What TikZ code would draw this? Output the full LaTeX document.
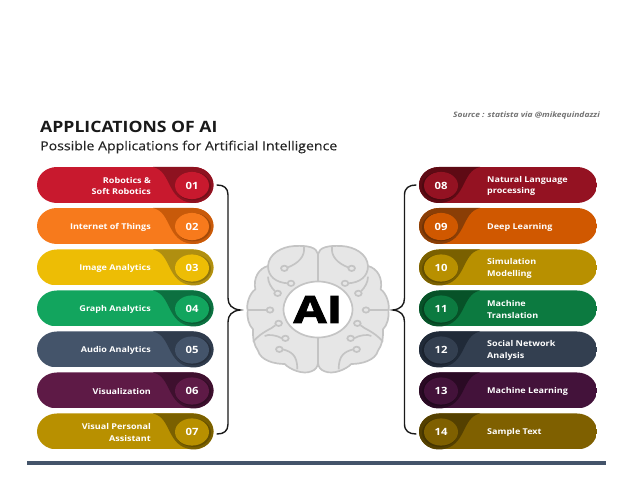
\documentclass[tikz,border=0pt]{standalone}
\usepackage{fontspec}
\setmainfont{Open Sans}
\newfontfamily\widea[FakeStretch=1.13]{Open Sans}
\newfontfamily\wideb[FakeStretch=1.13,FakeBold=0.25]{Open Sans}
\newfontfamily\widec[FakeStretch=1.28,BoldFeatures={FakeBold=2.5}]{Open Sans}
\definecolor{c1}{HTML}{C8192E}\definecolor{d1}{HTML}{8E1220}
\definecolor{c2}{HTML}{F77A1C}\definecolor{d2}{HTML}{C85A0A}
\definecolor{c3}{HTML}{EDBD05}\definecolor{d3}{HTML}{B08F10}
\definecolor{c4}{HTML}{12A55E}\definecolor{d4}{HTML}{0C7040}
\definecolor{c5}{HTML}{44546A}\definecolor{d5}{HTML}{2F3B4C}
\definecolor{c6}{HTML}{5E1A46}\definecolor{d6}{HTML}{3E102E}
\definecolor{c7}{HTML}{B89000}\definecolor{d7}{HTML}{7A6000}
\definecolor{c8}{HTML}{941222}\definecolor{d8}{HTML}{5E0A14}
\definecolor{c9}{HTML}{D05800}\definecolor{d9}{HTML}{8A3E06}
\definecolor{c10}{HTML}{B89000}\definecolor{d10}{HTML}{7A6000}
\definecolor{c11}{HTML}{0C7A40}\definecolor{d11}{HTML}{075228}
\definecolor{c12}{HTML}{333F50}\definecolor{d12}{HTML}{202A38}
\definecolor{c13}{HTML}{43123A}\definecolor{d13}{HTML}{2A0A24}
\definecolor{c14}{HTML}{7F6000}\definecolor{d14}{HTML}{544000}
\definecolor{brainfill}{HTML}{E6E6E6}\definecolor{brainline}{HTML}{C4C4C4}
\tikzset{
  pilltext/.style={text=white,font=\widea\bfseries\fontsize{8}{11.2}\selectfont,inner sep=0pt},
  numtext/.style={text=white,font=\widea\bfseries\fontsize{10}{12}\selectfont,inner sep=0pt},
  bracket/.style={draw=black!90,line width=1.4pt,line cap=round},
  brainl/.style={draw=brainline,line width=1.7pt},
  pad/.style={draw=brainline,line width=1.7pt,fill=brainfill},
}
\newcommand{\pillshape}[3]{% left, right, centre y
  (#2-20,#3-18) .. controls (#2-9,#3-18) and (#2,#3-10) .. (#2,#3) .. controls (#2,#3+10) and (#2-9,#3+18) .. (#2-20,#3+18) -- (#1+20,#3+18) .. controls (#1+9,#3+18) and (#1,#3+10) .. (#1,#3) .. controls (#1,#3-10) and (#1+9,#3-18) .. (#1+20,#3-18) -- cycle}
\newcommand{\pillL}[4]{%
  \begin{scope}
    \clip \pillshape{37}{213.5}{#1};
    \fill[c#3] (37,#1-18) rectangle (214,#1+18);
    \fill[d#3] (153,#1-18) .. controls (172,#1-14) and (166,#1+15) .. (192,#1+18) -- (214,#1+18) -- (214,#1-18) -- cycle;
    \fill[d#3!82!black] (193.2,#1+1.2) ellipse (17.8 and 14.2);
  \end{scope}
  \fill[c#3] (192,#1+0.5) ellipse (17 and 13.6);
  \node[numtext] (n#3) at (192,#1+0.5) {#2};
  \node[pilltext,anchor=east,align=right] (t#3) at (151,#1+1) {#4};
}
\newcommand{\pillR}[4]{%
  \begin{scope}
    \clip \pillshape{419}{597}{#1};
    \fill[c#3] (419,#1-18) rectangle (597,#1+18);
    \fill[d#3] (480,#1-18) .. controls (461,#1-14) and (467,#1+15) .. (441,#1+18) -- (419,#1+18) -- (419,#1-18) -- cycle;
    \fill[d#3!82!black] (439.8,#1+1.2) ellipse (17.8 and 14.2);
  \end{scope}
  \fill[c#3] (441,#1+0.5) ellipse (17 and 13.6);
  \node[numtext] (n#3) at (441,#1+0.5) {#2};
  \node[pilltext,anchor=west,align=left] (t#3) at (487,#1+1) {#4};
}
\newcommand{\brainhalf}{%
  \path[pad] (0,72) .. controls (4,52) and (30,46) .. (70,48)
    .. controls (110,50) and (148,72) .. (150,108)
    .. controls (178,115) and (195,145) .. (188,178)
    .. controls (206,190) and (216,225) .. (211,241)
    .. controls (214,262) and (208,285) .. (195,298)
    .. controls (196,325) and (192,345) .. (180,362)
    .. controls (172,392) and (130,402) .. (100,402)
    .. controls (85,418) and (45,435) .. (20,424)
    .. controls (8,420) and (2,412) .. (0,400) -- cycle;
  \draw[brainl] (42,50) .. controls (38,80) and (60,100) .. (90,112);
  \draw[pad] (101,115) ellipse (10 and 8);
  \draw[brainl] (150,108) .. controls (150,140) and (125,158) .. (91,160);
  \draw[pad] (81,160) ellipse (10 and 8);
  \draw[brainl] (150,140) .. controls (150,158) and (140,172) .. (130,183);
  \draw[pad] (121,190) ellipse (10 and 8);
  \draw[brainl] (154,240) -- (211,240);
  \draw[pad] (144,240) ellipse (10 and 8);
  \draw[brainl] (128,286) .. controls (140,298) and (165,302) .. (195,335);
  \draw[pad] (118,280) ellipse (10 and 8);
  \draw[brainl] (108,325) .. controls (125,315) and (150,312) .. (160,318);
  \draw[pad] (98,325) ellipse (10 and 8);
  \draw[brainl] (106,358) .. controls (80,365) and (62,375) .. (62,418);
  \draw[pad] (116,358) ellipse (10 and 8);
  \draw[brainl] (0,72) -- (0,158);
  \draw[brainl] (0,322) -- (0,400);
}
\begin{document}
\begin{tikzpicture}[x=1pt,y=-1pt]
\useasboundingbox (0,0) rectangle (638,478);
\fill[white] (0,0) rectangle (638,478);
\node[anchor=west,inner sep=0pt,font=\widea\bfseries\fontsize{15.6}{17}\selectfont,text=black!90] (title) at (40,127) {APPLICATIONS OF AI};
\node[anchor=west,inner sep=0pt,font=\wideb\fontsize{12.5}{14}\selectfont,text=black!85] (subtitle) at (40,147) {Possible Applications for Artificial Intelligence};
\node[anchor=east,inner sep=0pt,font=\widea\bfseries\itshape\fontsize{7.5}{8}\selectfont,text=black!55] (source) at (600,115.5) {Source : statista via @mikequindazzi};
\pillL{185}{01}{1}{Robotics \&\\Soft Robotics}
\pillL{226}{02}{2}{Internet of Things}
\pillL{267.5}{03}{3}{Image Analytics}
\pillL{308.5}{04}{4}{Graph Analytics}
\pillL{349.5}{05}{5}{Audio Analytics}
\pillL{390.5}{06}{6}{Visualization}
\pillL{431.5}{07}{7}{Visual Personal\\Assistant}
\pillR{185}{08}{8}{Natural Language\\processing}
\pillR{226}{09}{9}{Deep Learning}
\pillR{267.5}{10}{10}{Simulation\\Modelling}
\pillR{308.5}{11}{11}{Machine\\Translation}
\pillR{349.5}{12}{12}{Social Network\\Analysis}
\pillR{390.5}{13}{13}{Machine Learning}
\pillR{431.5}{14}{14}{Sample Text}
\begin{scope}[shift={(318,230)},xscale=1/3,yscale=1/3]\brainhalf\end{scope}
\begin{scope}[shift={(318,230)},xscale=-1/3,yscale=1/3]\brainhalf\end{scope}
\fill[white,draw=brainline,line width=1.7pt] (318,309.5) ellipse (34.5 and 28);
\node[inner sep=0pt,font=\widec\bfseries\fontsize{37.5}{40}\selectfont,text=black] (ai) at (318,309.5) {AI};
\coordinate (la) at (217,185);\coordinate (lb) at (217,434);\coordinate (lt) at (240,310);
\draw[bracket] (la) .. controls (224,185) and (228,188) .. (228,195) -- (228,298) .. controls (228,305) and (232,309) .. (lt) .. controls (232,311) and (228,315) .. (228,322) -- (228,424) .. controls (228,431) and (224,434) .. (lb);
\coordinate (ra) at (416,185);\coordinate (rb) at (416,434);\coordinate (rt) at (393,310);
\draw[bracket] (ra) .. controls (409,185) and (404.5,188) .. (404.5,195) -- (404.5,298) .. controls (404.5,305) and (401,309) .. (rt) .. controls (401,311) and (404.5,315) .. (404.5,322) -- (404.5,424) .. controls (404.5,431) and (409,434) .. (rb);
\fill[c5] (27,461.5) rectangle (606,465);
\end{tikzpicture}
\end{document}
